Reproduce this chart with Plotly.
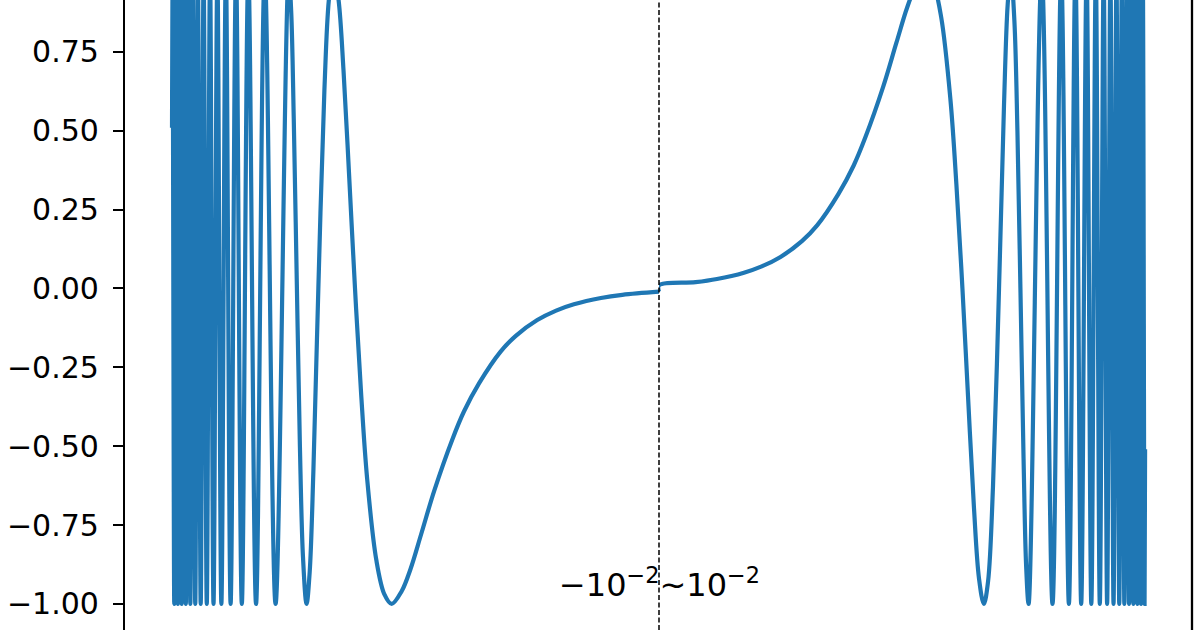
import plotly.graph_objects as go

# sin-like curve on a split log axis: |x| from 0.01 to 100 on each side,
# left side is the mirror image (odd function).
near_x = [0.01, 0.02, 0.03, 0.05, 0.07, 0.1, 0.15, 0.2, 0.3, 0.4, 0.5, 0.7,
          0.9, 1.1, 1.3, 1.57, 1.8, 2.1, 2.5, 2.8, 3.14, 3.5, 3.9, 4.3, 4.71,
          5.1, 5.6, 6.28, 6.9, 7.4, 7.85, 8.4, 8.9, 9.42, 10.0, 10.5, 11.0]
near_y = [0.01, 0.02, 0.03, 0.05, 0.07, 0.10, 0.15, 0.20, 0.30, 0.39, 0.48, 0.64,
          0.78, 0.89, 0.96, 1.00, 0.97, 0.86, 0.60, 0.33, 0.00, -0.35, -0.69, -0.92, -1.00,
          -0.93, -0.63, 0.00, 0.58, 0.90, 1.00, 0.85, 0.50, 0.00, -0.54, -0.88, -1.00]

# dense part: only the tips can be told apart
peak_x = [14.1, 20.4, 26.7, 33.0, 39.3, 45.6, 51.8, 58.1, 64.4, 70.7,
          77.0, 83.3, 89.5, 95.8]
trough_x = [17.3, 23.6, 29.8, 36.1, 42.4, 48.7, 55.0, 61.3, 67.5, 73.8,
            80.1, 86.4, 92.7, 99.0]
edge_x = 100.0
edge_y = -0.51

y_ticks = [-1.0, -0.75, -0.5, -0.25, 0.0, 0.25, 0.5, 0.75]
y_tick_text = ["\u22121.00", "\u22120.75", "\u22120.50", "\u22120.25",
               "0.00", "0.25", "0.50", "0.75"]

break_label = "\u221210<sup>\u22122</sup>~10<sup>\u22122</sup>"

BLUE = "#1f77b4"
FONT = "DejaVu Sans"

far = sorted([(x, 1.0) for x in peak_x] + [(x, -1.0) for x in trough_x])
mag = near_x + [p[0] for p in far] + [edge_x]
val = near_y + [p[1] for p in far] + [edge_y]

fig = go.Figure()

# negative side, drawn on a reversed log axis of |x|
fig.add_trace(go.Scatter(
    x=mag, y=[-v for v in val], xaxis="x", yaxis="y",
    mode="lines", line=dict(color=BLUE, width=4.2, shape="spline"),
    showlegend=False, hoverinfo="skip",
))
# positive side, starts with the step across the break
fig.add_trace(go.Scatter(
    x=[near_x[0]] + mag, y=[-near_y[0]] + val, xaxis="x2", yaxis="y",
    mode="lines", line=dict(color=BLUE, width=4.2, shape="spline"),
    showlegend=False, hoverinfo="skip",
))

split = (659 - 125) / 1067
pad = 2.386

hidden = dict(showgrid=False, zeroline=False, showline=False,
              showticklabels=False, ticks="")

fig.update_layout(
    width=1200, height=630,
    margin=dict(l=125, r=8, t=0, b=0),
    paper_bgcolor="white", plot_bgcolor="white",
    font=dict(family=FONT, size=30, color="black"),
    xaxis=dict(type="log", domain=[0, split], range=[pad, -2], anchor="y", **hidden),
    xaxis2=dict(type="log", domain=[split, 1], range=[-2, pad], anchor="y", **hidden),
    yaxis=dict(
        range=[-1.0828, 0.9147], anchor="x",
        tickvals=y_ticks, ticktext=y_tick_text,
        ticks="outside", ticklen=10, tickwidth=2.3, tickcolor="black",
        ticklabelstandoff=8,
        showline=True, linewidth=2.3, linecolor="black",
        showgrid=False, zeroline=False,
    ),
    shapes=[
        # right spine
        dict(type="line", xref="paper", yref="paper", x0=1, x1=1, y0=0, y1=1,
             line=dict(color="black", width=2.3)),
        # axis break marker
        dict(type="line", xref="x2 domain", yref="paper", x0=0, x1=0, y0=0, y1=1,
             line=dict(color="black", width=1.5, dash="5px,2.5px")),
    ],
    annotations=[
        dict(text=break_label, xref="x2 domain", yref="y", x=0, y=-0.934,
             xanchor="center", yanchor="middle", showarrow=False,
             font=dict(family=FONT, size=32, color="black")),
    ],
)

fig.write_html("out.html", config={"displayModeBar": False},
               post_script="document.body.style.margin='0';")
